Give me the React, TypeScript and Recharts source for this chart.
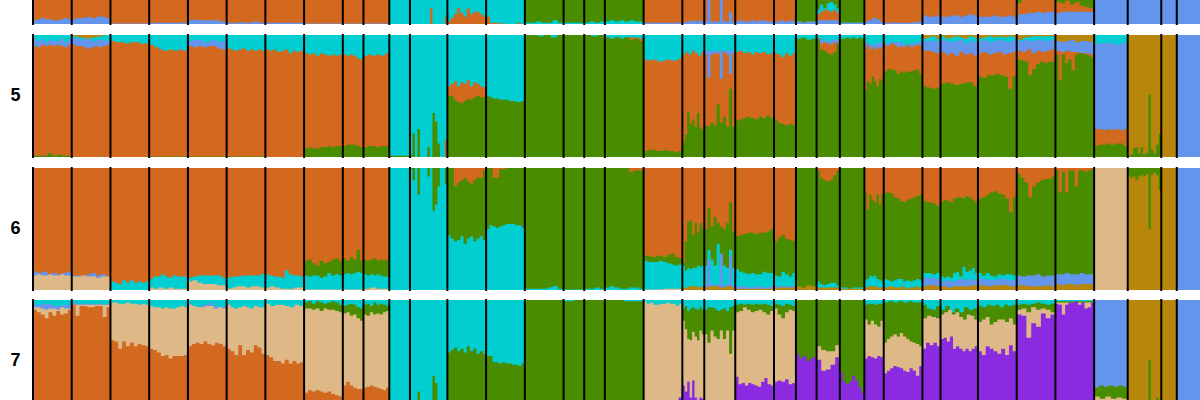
import { AreaChart, Area, XAxis, YAxis, ReferenceLine } from 'recharts'

const ORANGE = '#D2691E'
const CYAN = '#00CED1'
const GREEN = '#4A8C00'
const BLUE = '#6495ED'
const GOLD = '#B8860B'
const TAN = '#DEB887'
const PURPLE = '#8A2BE2'

// individuals per population, left to right
const popSizes = [30, 30, 30, 30, 30, 30, 30, 30, 16, 20, 16, 29, 30, 30, 30, 16, 16, 30, 30, 17, 24, 30, 17, 16, 18, 19, 15, 30, 14, 29, 30, 30, 30, 26, 26, 12, 18]

const z = [0]
const f = [100]

// every list below: top edge (%) of that colour per population, any number of columns in a population
// populations are laid out 10 / 8 / 10 / 9 per line

// K = 4, only the bottom of the panel is on the page
const k4Cyan = [
  z, z, z, z, z, z, z, z, z, z,
  f, f, f, f, [1, 1, 2, 1, 1, 3, 1], [1], [1, 2, 1, 2], [2, 3, 2, 3, 2, 3, 2, 2],
  z, z, z, z, z, z, [12, 16, 13, 17, 18, 16, 13], [1], z, z,
  z, z, z, z, z, z, z, z, z,
]
const k4Orange = [
  f, f, f, f, f, f, f, f, f, f,
  z, [0, 0, 0, 0, 0, 0, 0, 0, 13, 0, 0, 0, 0, 0, 6], [2, 5, 8, 13, 9, 6, 13, 8, 10, 10, 8, 6], [6, 1, 1, 0.5, 0.5, 0, 0, 0, 1, 0], z, z, z, z,
  f, f, f, f, f, z, [8, 10, 12, 11, 10, 12, 9], z, f, f,
  f, f, f, [17, 100, 100, 100, 100, 100, 100, 100], [18, 17, 19, 16, 18, 15, 14, 13], z, z, z, z,
]
const k4Blue = [
  [3, 4, 5, 4, 4, 3, 3, 4, 5, 4], [4, 5, 5, 6, 5, 6, 6, 5], [0.5], [1], [3, 3.5, 3, 3, 3, 2], [1, 1, 1.5, 1, 2, 1], [1], [0.5], [0.5], [0.5],
  z, z, z, z, z, z, z, z,
  [1], [1, 2, 2, 3, 2, 3, 2], [2, 22, 2, 2, 2, 22, 2, 2, 10, 2], [2, 3, 2, 2, 3, 2, 3, 3, 2, 2], [2, 2, 3, 2, 2, 3, 2], [2, 2, 1, 2, 2, 2], [3], [1], [2, 3, 5, 4, 2], [1, 1, 1, 1, 1, 1, 1.5, 2],
  [7, 6, 6, 7], [6, 6, 7, 7, 6, 7, 8, 7], [6, 6, 6, 7, 6, 6, 7, 6], [8, 8, 9, 9, 10, 9, 10, 10], [9, 10, 10, 10, 10, 10, 10], f, f, f, f,
]

// K = 5
const k5Cyan = [
  f, [99, 98, 97, 98, 99, 100], f, f, f, f, f, f, f, f,
  f, f, f, f, f, f, f, f,
  f, f, f, f, f, f, f, f, f, f,
  [97, 98, 99, 97], [99, 97, 98, 99, 98, 97, 99, 98], [97, 98, 99, 98, 99, 98, 99, 98], [96, 98, 99, 99, 99, 99], z, f, z, z, z,
]
const k5Blue = [
  [97, 95, 96, 94, 96, 95, 95, 97, 94, 96], [98, 97, 96, 97, 95, 96, 96, 95], z, z, [95, 96, 96, 94, 95, 96, 94, 95], z, z, z, z, z,
  z, z, z, z, z, z, z, z,
  z, z, [87], z, z, z, [97, 95, 96], z, [94, 92, 93, 94], [93, 94, 94, 92, 93, 94],
  [95], [96, 95, 94, 95, 96, 93, 95, 94], [95, 96, 94, 95, 96, 95, 94, 96], [95, 96, 95, 96, 95, 96], [95, 94, 95, 96, 94, 95, 95, 94], [93, 93, 93, 94, 93, 92, 93, 93], z, z, f,
]
const k5Orange = [
  [91, 90, 92, 91, 92, 91, 92, 91, 90, 92], [92, 91, 91, 90, 89, 90, 91, 90, 91, 92], [95, 94, 94, 93, 94, 94, 93, 93], [92, 90, 88, 87, 88, 87, 88, 87], [91, 90, 91, 90, 91, 91, 89, 88], [89, 88, 87, 88, 89, 87, 88, 87, 88, 87], [88, 87, 88, 86, 87, 88, 85, 87, 86, 87], [85, 84, 85, 83, 85, 84, 83, 84, 83, 84], [84, 83, 84, 83, 81, 80], [83, 84, 83, 84, 83, 85],
  z, [0, 0, 0, 0, 0, 0, 0, 0, 0, 0, 0, 0, 0, 0, 14], [58, 60, 62, 58, 61, 60, 63, 58, 61, 60, 58, 57], z, z, z, z, [98, 97, 98, 97, 98, 98, 98, 97],
  [80, 79, 80, 79, 78, 79, 80, 79, 79, 81], [84, 86, 84, 87, 85, 83, 86], [84, 65, 84, 85, 85, 64, 86, 84, 68, 85], [86, 87, 85, 86, 84, 86, 85, 86, 84, 85], [85, 84, 82, 85, 83, 85], z, [94, 93, 94, 93, 92, 94, 93], z, [90, 92, 88, 90, 88, 90, 89, 90], [92, 91, 93, 92, 90, 91, 90, 92, 90, 91, 92, 91],
  [87, 87, 86, 85], [86, 84, 85, 83, 86, 84, 85, 83], [85, 86, 84, 85, 86, 84, 85, 86], [87, 86, 88, 85, 87, 86, 87, 88], [87, 86, 87, 86, 86, 85, 85, 84], [23, 23, 22, 23, 22, 23, 22, 23], z, z, z,
]
const k5Green = [
  [1, 1, 1, 3, 1, 2, 1, 1], z, z, [0.5], [0.5], [0.5], z, [7, 8, 7, 7, 8, 8, 9, 8, 9, 9], [9, 10, 10, 10, 9, 8], [8, 9, 9, 8, 9, 9],
  [1], [2, 19, 0, 23, 0, 0, 0, 8, 0, 36, 29, 11, 0, 0, 0], [50, 50, 47, 45, 44, 46, 48, 47, 49, 50, 49, 49], [50, 49, 48, 48, 47, 47, 47, 46, 46, 45, 45, 46], [100, 100, 99, 100, 98, 100], f, [100, 99, 100], [98, 97, 98, 97, 98, 96, 97, 95],
  [5, 6, 6, 5, 5, 6, 5, 5, 4, 5], [12, 18, 37, 27, 31, 25, 36, 24, 22], [26, 25, 28, 26, 43, 28, 33, 25, 56, 25], [30, 31, 32, 33, 32, 31, 33, 32, 34, 32], [31, 28, 27, 26, 27, 26], [97, 98, 96, 97], [97, 88, 87, 85, 84, 86, 93], [97, 97, 98, 97, 98, 97, 98, 97], [55, 62, 60, 66, 62, 58, 64, 62], [70, 72, 72, 71, 68, 70, 69, 70, 70, 71, 72, 68],
  [58, 57, 56, 57], [60, 61, 60, 59, 60, 61, 61, 58], [66, 65, 67, 67, 68, 67, 66, 56, 66], [80, 79, 78, 67, 72, 76, 78, 77, 78, 78], [84, 63, 84, 77, 80, 71, 84, 85, 85, 84, 83, 82], [9, 10, 10, 11, 10, 11, 11, 9], [1, 2, 7, 8, 3, 8, 2, 3, 51, 6, 3, 10, 19], z, z,
]

// K = 6
const k6Green = [
  z, z, z, z, z, z, z, [24, 25, 22, 20, 24, 22, 23, 25, 26, 24], [26, 24, 27, 25, 33, 24], [25, 24, 25, 26, 24, 25, 24, 25],
  f, f, [100, 100, 85, 88, 90, 92, 89, 87, 90, 92, 92, 98], [100, 92, 99, 100, 100, 100], f, f, f, [100, 100, 100, 100, 100, 97, 98, 98],
  [28, 28, 27, 28, 28, 27, 29, 30, 27, 26], [22, 40, 56, 57, 45, 55, 47, 55, 50], [50, 67, 52, 60, 55, 52, 50, 55, 72, 48], [44, 45, 46, 47, 47, 46, 47, 47, 48, 50], [40, 43, 45, 42, 41, 40], f, [98, 92, 90, 89, 90, 94, 98], f, [80, 66, 78, 74, 72, 78, 70, 78], [80, 80, 79, 76, 75, 73, 72, 74, 75, 76, 77, 78],
  [73, 72, 71, 69], [72, 74, 73, 72, 75, 76, 76, 75, 77, 76, 74, 72], [75, 76, 78, 80, 81, 79, 78, 75, 64, 76], [95, 92, 88, 76, 85, 88, 90, 91, 91, 93], [98, 80, 97, 80, 98, 98, 85, 98, 98, 97, 98, 99], z, f, z, z,
]
const k6Cyan = [
  z, z, [7, 6, 5, 8, 6, 8, 6, 7, 6, 7], [9, 11, 11, 13, 11, 10, 12, 11, 11, 11], [10, 11, 12, 12, 12, 12, 12, 10], [10, 11, 11, 12, 12, 12, 12, 13], [13, 12, 11, 11, 10, 16, 13, 12, 12, 11], [12, 11, 12, 12, 10, 11, 14, 12, 13, 12], [13, 14, 13, 14, 15, 14], [13, 12, 13, 12, 13, 12, 11, 11],
  f, [99, 90, 100, 78, 100, 100, 100, 93, 100, 65, 70, 85, 100, 100, 87], [45, 42, 40, 41, 44, 38, 42, 44, 40, 42, 44, 41], [50, 53, 52, 51, 52, 53, 54, 54, 54, 53, 53, 51], [1, 1, 1, 1, 2, 3, 1], [0.5], [1, 1, 2, 1], [2, 3, 2, 1, 1, 2, 2, 1],
  [24, 23, 23, 23, 24, 23, 22, 21, 20, 21], [20, 16, 18, 17, 18, 18, 20, 19, 20], [20, 33, 25, 20, 38, 18, 20, 18, 33, 18], [17, 15, 14, 13, 14, 13, 13, 15, 14, 14], [12, 11, 15, 13, 11, 14], [1], [7, 5, 4, 5, 6, 6, 4], [2, 2, 1, 2, 2, 2], [8, 9, 12, 11, 12, 9, 8, 7], [9, 8, 7, 8, 9, 9, 7, 8, 7, 8, 9, 8],
  [14, 14, 13, 14], [11, 10, 11, 10, 14, 15, 11, 19, 15, 16, 18, 14], [14, 12, 14, 12, 11, 13, 12, 13, 13, 12], z, z, z, z, z, z,
]
const k6Blue = [
  [15, 14, 15, 13, 14, 13, 14, 15], [12, 12, 11, 13, 14, 12, 13, 11], z, z, z, z, z, z, z, z,
  z, z, z, z, z, z, z, z,
  z, z, [5, 25, 5, 4, 5, 30, 4, 5, 28, 4], [3, 3, 2, 3, 2, 3], [3], z, z, z, z, z,
  [10, 10, 10, 9], [7, 8, 7, 8, 9, 8, 9, 8], [9, 8, 9, 8], [12, 11, 12, 12, 13, 11, 12, 12], [13, 13, 14, 13, 13, 14, 13, 13], z, z, z, f,
]
const k6Tan = [
  [12, 13, 12, 12, 13, 12, 12, 13, 12, 12], [11, 11, 12, 11, 11, 10, 11, 11], z, [2, 1, 2, 1, 2, 1, 1, 1], [7, 8, 6, 5, 5, 5, 4, 4], [1, 2, 3, 3, 2, 3, 3, 2], [2, 3, 2, 1, 1, 1, 2, 2], [0.5], [0.5], [1, 2, 1, 1],
  z, z, z, z, z, z, z, z,
  [0.5, 0.5, 1, 1], z, z, z, z, z, z, z, z, z,
  z, z, z, z, z, f, z, z, z,
]
const k6Gold = [
  z, z, z, z, z, z, z, z, z, z,
  z, z, z, z, z, z, z, z,
  z, [2, 2, 3, 3, 3, 2, 3], [2, 3, 3, 3, 3, 2, 2, 3, 3, 2], [1], [2], [3, 2, 4, 3], [2], [1], [2, 3, 3, 3, 2, 2], [2, 3, 3, 2, 2, 3, 1, 2, 2, 3, 2],
  [3, 4, 4, 3], [3, 2, 3, 3, 3, 4], [4, 3, 4, 4, 3], [4, 4, 3, 3, 3, 3, 4, 3], [5, 4, 5, 5, 4, 5, 5, 5], z, [94, 92, 93, 90, 93, 94, 93, 95, 50, 94, 96, 94, 82], f, z,
]

// K = 7, the lowest part of the panel runs off the page
const k7Blue = [
  [96, 97, 95, 96], [98, 97, 97, 97, 97, 97, 96, 97], z, z, [97, 95, 94, 96, 96, 98, 95, 94, 95], z, z, z, z, z,
  z, z, z, z, z, z, z, z,
  z, z, z, z, z, z, z, z, z, z,
  z, z, z, z, z, f, z, z, f,
]
const k7Gold = [
  z, z, z, z, z, z, z, z, z, z,
  z, z, z, z, z, z, z, z,
  z, z, z, z, z, z, z, z, z, z,
  z, z, z, z, z, z, f, f, z,
]
const k7Green = [
  z, z, z, z, z, z, z, [98, 99, 97, 99, 98, 97, 98, 99, 98, 96], [95, 96, 97, 96, 94, 93], [96, 97, 95, 98, 96, 97, 96, 95],
  z, [0, 0, 0, 25, 0, 0, 0, 0, 0, 38, 32, 0, 0, 0, 0], [57, 59, 61, 58, 60, 57, 62, 58, 60, 56, 58, 56], [54, 54, 49, 49, 48, 49, 48, 48, 47, 47, 46, 48], f, [99, 100], f, [100, 99],
  z, [93, 95, 91, 93, 94, 93, 92, 94, 92], [92, 94, 94, 93, 91, 92, 93, 91, 94, 95], [96, 97, 96, 97, 96, 97, 96, 97, 96, 95], [97, 96, 95, 97, 96, 95], f, f, f, [96, 97, 97, 96, 97, 97], [98, 99, 98, 99, 98, 99, 98, 98],
  [96, 93, 92, 95], [92, 95, 90, 93, 90, 94, 92, 93], [95, 94, 96, 95, 96, 94, 96, 95, 96], [96, 97, 96, 97, 98, 97, 96, 97], [99], [28, 30, 29, 30, 29, 30, 29], [0, 0, 0, 0, 0, 0, 0, 0, 51, 0, 0, 20, 0], z, z,
]
const k7Tan = [
  [94, 94, 93, 92, 93, 93, 92, 94, 93, 93], [96], [98, 98, 97, 97, 98, 97, 97, 96, 97, 96], [95, 94, 94, 93, 94, 93, 93, 94, 95, 94], [96, 95, 94, 94, 95, 95, 93, 94, 93], [96, 94, 93, 94, 95, 94, 93, 95, 94, 94], [97, 95, 96, 96, 95, 94, 96, 95], [93, 93, 92, 93, 91, 93, 92, 92, 91, 90], [89, 90, 87, 88, 85, 83], [88, 87, 90, 88, 89, 88, 90, 91],
  z, z, z, z, z, z, z, z,
  [99, 97, 98, 96, 96, 97, 97, 98, 97, 97, 95, 97], [83, 76, 68, 67, 74, 70, 67, 75, 72], [72, 65, 75, 70, 68, 75, 68, 75, 56, 75], [90, 91, 94, 92, 90, 91, 92, 90, 88, 91], [93, 88, 85, 90, 92, 91], z, [62, 59, 58, 58, 63], z, [84, 80, 83, 80, 78, 83], [65, 68, 70, 72, 70, 73, 70, 68, 66, 65, 64, 62],
  [85, 87, 86, 85], [88, 90, 92, 88, 90, 86, 84, 88, 87, 84], [82, 84, 86, 80, 82, 84, 84, 82, 85, 80], [92, 93, 90, 94, 92, 93, 92, 90], [98], [21, 19, 21, 19, 20, 19], z, z, z,
]
const k7Orange = [
  [92, 90, 88, 85, 90, 87, 91, 88, 89, 92], [96, 87, 95, 95, 94, 94, 95, 95, 86, 94], [67, 66, 60, 66, 62, 65, 62, 64, 63, 62], [60, 59, 57, 54, 55, 52, 54, 54, 54, 55], [62, 64, 65, 64, 66, 64, 63, 65, 64, 62], [60, 58, 55, 63, 55, 59, 57, 63, 61, 56], [55, 53, 50, 50, 48, 51, 48, 50, 48, 49], [24, 26, 25, 26, 25, 24, 25, 23, 22, 21], [30, 33, 30, 28, 27, 27], [28, 29, 30, 29, 28, 27, 26, 28],
  z, z, z, z, z, z, z, z,
  z, z, z, z, z, z, z, z, z, z,
  z, z, z, z, z, z, z, z, z,
]
const k7Purple = [
  z, z, z, z, z, z, z, z, z, z,
  z, z, z, z, z, z, z, z,
  [0, 0, 0, 0, 0, 0, 0, 0, 0, 20], [30, 25, 33, 20, 34, 20, 18, 20, 19], z, [37, 31, 32, 30, 32, 31, 30, 29, 33, 36, 31, 30], [33, 34, 33, 35, 31, 32], [56, 52, 54, 50, 52, 53], [51, 42, 43, 47, 53], [41, 33, 31, 33, 38, 34, 29, 24], [52, 54, 53, 52, 54, 53], [40, 42, 44, 46, 45, 44, 42, 41, 44, 42, 38, 46],
  [60, 65, 63, 65, 62], [68, 69, 66, 70, 60, 62, 60, 58, 60, 58, 60, 62], [58, 55, 62, 60, 58, 56, 60, 55, 63, 58], [88, 87, 69, 81, 78, 89, 85, 88], [97, 96, 88, 96, 98, 98, 99, 96, 98, 93, 94, 98], z, z, z, z,
]

const allFull = popSizes.map(() => f)

const totalIndividuals = popSizes.reduce((a, b) => a + b, 0)
const popStarts = popSizes.map((_, i) => popSizes.slice(0, i).reduce((a, b) => a + b, 0))

// columns of one population edge -> points for a step area
const toPoints = (edge: number[][]) => {
  const pts: { x: number; y: number }[] = []
  edge.forEach((cols, p) => {
    cols.forEach((y, i) => {
      pts.push({ x: popStarts[p] + (i * popSizes[p]) / cols.length, y })
    })
  })
  pts.push({ x: totalIndividuals, y: edge[edge.length - 1].slice(-1)[0] })
  return pts
}

type Layer = [string, number[][]]

const Panel = ({ top, layers }: { top: number; layers: Layer[] }) => (
  <div style={{ position: 'absolute', left: 0, top }}>
    <AreaChart width={1200} height={124} margin={{ top: 0, right: 0, bottom: 0, left: 33 }}>
      <XAxis type="number" dataKey="x" domain={[0, totalIndividuals]} hide allowDataOverflow />
      <YAxis type="number" domain={[-0.8, 100.8]} width={0} hide />
      {layers.map(([color, edge], i) => (
        <Area
          key={i}
          data={toPoints(edge)}
          dataKey="y"
          type="stepAfter"
          fill={color}
          fillOpacity={1}
          stroke="none"
          dot={false}
          activeDot={false}
          isAnimationActive={false}
        />
      ))}
      {popStarts.map((s) => (
        <ReferenceLine key={s} x={s} stroke="#000" strokeWidth={2} />
      ))}
    </AreaChart>
  </div>
)

const panelLabels = [
  { text: '5', y: 95 },
  { text: '6', y: 228 },
  { text: '7', y: 360 },
]

export default function App() {
  return (
    <div style={{ position: 'fixed', left: 0, top: 0, width: 1200, height: 400, overflow: 'hidden', background: '#fff' }}>
      <Panel top={-98.7} layers={[[GREEN, allFull], [CYAN, k4Cyan], [ORANGE, k4Orange], [BLUE, k4Blue]]} />
      <Panel top={34} layers={[[GOLD, allFull], [CYAN, k5Cyan], [BLUE, k5Blue], [ORANGE, k5Orange], [GREEN, k5Green]]} />
      <Panel top={166.5} layers={[[ORANGE, allFull], [GREEN, k6Green], [CYAN, k6Cyan], [BLUE, k6Blue], [TAN, k6Tan], [GOLD, k6Gold]]} />
      <Panel top={299} layers={[[CYAN, allFull], [BLUE, k7Blue], [GOLD, k7Gold], [GREEN, k7Green], [TAN, k7Tan], [ORANGE, k7Orange], [PURPLE, k7Purple]]} />
      {panelLabels.map((l) => (
        <div
          key={l.text}
          style={{
            position: 'absolute',
            left: 0,
            width: 31,
            top: l.y - 12,
            height: 24,
            lineHeight: '24px',
            textAlign: 'center',
            fontFamily: '"Liberation Sans", Arial, sans-serif',
            fontWeight: 700,
            fontSize: 18,
            color: '#000',
          }}
        >
          {l.text}
        </div>
      ))}
    </div>
  )
}
